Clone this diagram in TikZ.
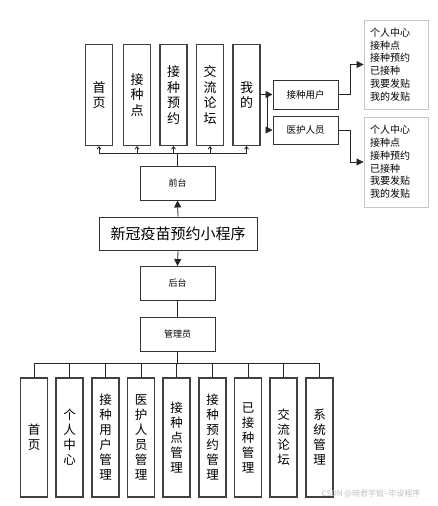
\documentclass[tikz,border=0pt]{standalone}
\usepackage{fontspec}
\setmainfont{Noto Sans CJK SC}
\usetikzlibrary{arrows.meta}
\begin{document}
\begin{tikzpicture}[x=1pt,y=-1pt,
  vbox/.style={draw=black!75, line width=1.1pt, fill=white, minimum width=27pt, minimum height=101pt, inner sep=0pt, align=center, font=\fontsize{13}{15.5}\selectfont},
  bbox/.style={draw=black!75, line width=1.1pt, fill=white, minimum width=27pt, minimum height=119pt, inner sep=0pt, align=center, font=\fontsize{12.5}{15}\selectfont},
  sbox/.style={draw=black!80, line width=0.9pt, fill=white, minimum width=75pt, minimum height=34pt, inner sep=0pt, font=\fontsize{9}{11}\selectfont},
  ubox/.style={draw=black!80, line width=1pt, fill=white, minimum width=65pt, minimum height=29pt, inner sep=0pt, font=\fontsize{9.5}{11}\selectfont},
  lbox/.style={draw=black!22, line width=0.9pt, fill=white, minimum width=64pt, minimum height=89pt, inner xsep=6pt, inner ysep=0pt, align=left, text width=52pt, font=\fontsize{10}{12.8}\selectfont},
  conn/.style={draw=black!85, line width=0.8pt},
  tarr/.style={conn, -{Straight Barb[length=2.5pt,width=4pt]}},
  farr/.style={conn, -{Triangle[length=7pt,width=7pt]}}
]
\useasboundingbox (0,0) rectangle (437,506);

% top boxes
\node[vbox] (t1) at (99,95) {首\\页};
\node[vbox] (t2) at (137,95) {接\\种\\点};
\node[vbox] (t3) at (173.5,95) {接\\种\\预\\约};
\node[vbox] (t4) at (210,95) {交\\流\\论\\坛};
\node[vbox] (t5) at (246.5,95) {我\\的};

% middle column
\node[sbox] (qt) at (177.5,183) {前台};
\node[draw=black!80, line width=1pt, minimum width=158pt, minimum height=33pt, inner sep=0pt, font=\fontsize{15}{17}\selectfont] (main) at (178,233.5) {新冠疫苗预约小程序};
\node[sbox] (ht) at (177.5,283.5) {后台};
\node[sbox] (gl) at (177.5,334.5) {管理员};

% user types
\node[ubox] (u1) at (305.5,94.5) {接种用户};
\node[ubox, minimum height=28pt] (u2) at (305.5,130) {医护人员};

% lists
\node[lbox] (l1) at (396,64.5) {个人中心\\接种点\\接种预约\\已接种\\我要发贴\\我的发贴};
\node[lbox, minimum height=90pt] (l2) at (396,162) {个人中心\\接种点\\接种预约\\已接种\\我要发贴\\我的发贴};

% bottom boxes
\node[bbox] (b1) at (34,437.5) {首\\页};
\node[bbox] (b2) at (69.5,437.5) {个\\人\\中\\心};
\node[bbox] (b3) at (105.5,437.5) {接\\种\\用\\户\\管\\理};
\node[bbox] (b4) at (141,437.5) {医\\护\\人\\员\\管\\理};
\node[bbox] (b5) at (176.5,437.5) {接\\种\\点\\管\\理};
\node[bbox] (b6) at (212.5,437.5) {接\\种\\预\\约\\管\\理};
\node[bbox] (b7) at (248,437.5) {已\\接\\种\\管\\理};
\node[bbox] (b8) at (283.5,437.5) {交\\流\\论\\坛};
\node[bbox] (b9) at (319.5,437.5) {系\\统\\管\\理};

% top bus
\coordinate (tb) at (177.5,153);
\draw[conn] (qt.north) -- (tb);
\draw[conn] (t1.south |- tb) -- (t5.south |- tb);
\foreach \i in {1,...,5} \draw[tarr] (t\i.south |- tb) -- (t\i.south);

% main arrows
\draw[farr] (main.north) -- (qt.south);
\draw[farr] (main.south) -- (ht.north);
\draw[conn] (ht.south) -- (gl.north);

% bottom bus
\coordinate (bb) at (177.5,363);
\draw[conn] (gl.south) -- (bb);
\draw[conn] (b1.north |- bb) -- (b9.north |- bb);
\foreach \i in {1,...,9} \draw[conn] (b\i.north |- bb) -- (b\i.north);

% right side
\coordinate (jb) at (267,94.5);
\draw[farr] (t5.east |- jb) -- (u1.west);
\draw[farr] (jb) |- (u2.west);
\draw[farr] (u1.east) -- ++(12,0) |- (l1.west);
\draw[farr] (u2.east) -- ++(12,0) |- (l2.west);

% watermark
\node[text=black!25, font=\fontsize{8}{10}\selectfont, inner sep=0pt] (wm) at (371,494) {CSDN @晓君学姐--毕设程序};
\end{tikzpicture}
\end{document}
